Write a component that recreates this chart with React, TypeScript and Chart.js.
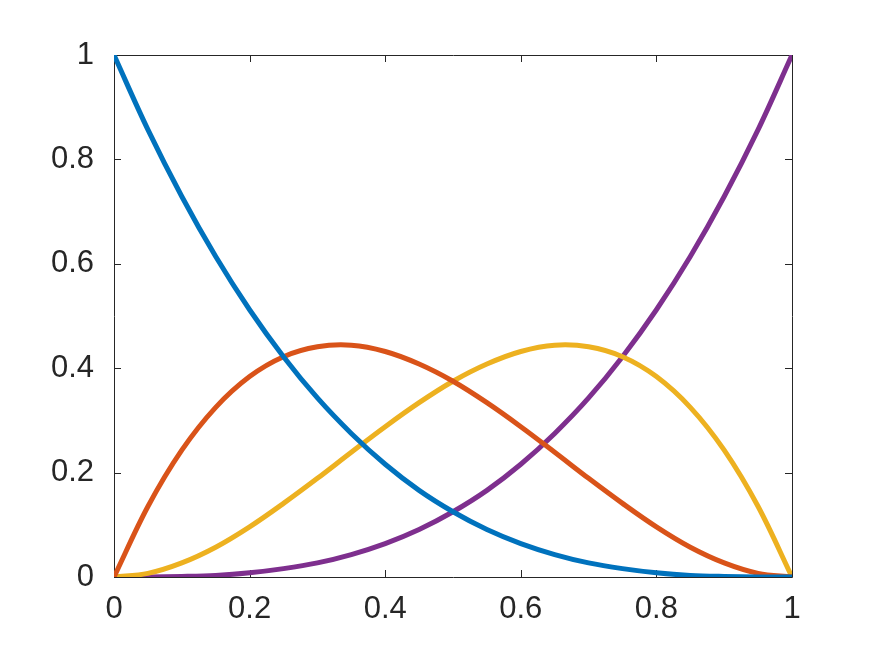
import React, { useEffect, useRef } from "react";
import { Chart, registerables } from "chart.js";

Chart.register(...registerables);

const tValues = [0, 0.05, 0.1, 0.15, 0.2, 0.25, 0.3, 0.35, 0.4, 0.45, 0.5, 0.55, 0.6, 0.65, 0.7, 0.75, 0.8, 0.85, 0.9, 0.95, 1];
const blueValues = [1, 0.857, 0.729, 0.614, 0.512, 0.422, 0.343, 0.275, 0.216, 0.166, 0.125, 0.091, 0.064, 0.043, 0.027, 0.016, 0.008, 0.003, 0.001, 0.0001, 0];
const orangeValues = [0, 0.135, 0.243, 0.325, 0.384, 0.422, 0.441, 0.444, 0.432, 0.408, 0.375, 0.334, 0.288, 0.239, 0.189, 0.141, 0.096, 0.057, 0.027, 0.007, 0];
const yellowValues = [0, 0.007, 0.027, 0.057, 0.096, 0.141, 0.189, 0.239, 0.288, 0.334, 0.375, 0.408, 0.432, 0.444, 0.441, 0.422, 0.384, 0.325, 0.243, 0.135, 0];
const purpleValues = [0, 0.0001, 0.001, 0.003, 0.008, 0.016, 0.027, 0.043, 0.064, 0.091, 0.125, 0.166, 0.216, 0.275, 0.343, 0.422, 0.512, 0.614, 0.729, 0.857, 1];

const seriesColors = ["#0072BD", "#D95319", "#EDB120", "#7E2F8E"];
const textColor = "#262626";
const fontFamily = "'Liberation Sans', Arial, Helvetica, sans-serif";

const fmt = (v: any) => String(Number(Number(v).toFixed(1)));

const boxPlugin = {
  id: "matlabBox",
  beforeDatasetsDraw(chart: any) {
    const { ctx, chartArea } = chart;
    const { left, right, top, bottom } = chartArea;
    const xs = chart.scales.x;
    const ys = chart.scales.y;
    const tl = 7;
    ctx.save();
    ctx.strokeStyle = textColor;
    ctx.lineWidth = 1;
    ctx.beginPath();
    ctx.rect(Math.round(left) + 0.5, Math.round(top) + 0.5, Math.round(right - left), Math.round(bottom - top));
    xs.ticks.forEach((t: any) => {
      const px = Math.round(xs.getPixelForValue(t.value)) + 0.5;
      ctx.moveTo(px, bottom);
      ctx.lineTo(px, bottom - tl);
      ctx.moveTo(px, top);
      ctx.lineTo(px, top + tl);
    });
    ys.ticks.forEach((t: any) => {
      const py = Math.round(ys.getPixelForValue(t.value)) + 0.5;
      ctx.moveTo(left, py);
      ctx.lineTo(left + tl, py);
      ctx.moveTo(right, py);
      ctx.lineTo(right - tl, py);
    });
    ctx.stroke();
    ctx.restore();
  },
};

export default function App() {
  const ref = useRef<HTMLCanvasElement | null>(null);
  useEffect(() => {
    if (!ref.current) return;
    const series = [blueValues, orangeValues, yellowValues, purpleValues];
    const chart = new Chart(ref.current, {
      type: "line",
      data: {
        datasets: series.map((vals, i) => ({
          label: "s" + i,
          data: tValues.map((t, j) => ({ x: t, y: vals[j] })),
          borderColor: seriesColors[i],
          backgroundColor: seriesColors[i],
          borderWidth: 5,
          pointRadius: 0,
          tension: 0.35,
          borderCapStyle: "round" as const,
          borderJoinStyle: "round" as const,
          fill: false,
        })),
      },
      options: {
        animation: false,
        responsive: false,
        maintainAspectRatio: false,
        layout: { padding: { left: 0, top: 55, right: 84, bottom: 0 } },
        plugins: { legend: { display: false }, tooltip: { enabled: false } },
        scales: {
          x: {
            type: "linear",
            min: 0,
            max: 1,
            ticks: {
              stepSize: 0.2,
              color: textColor,
              font: { family: fontFamily, size: 31 },
              padding: 14,
              maxRotation: 0,
              callback: fmt,
            },
            grid: { display: false, drawTicks: false },
            border: { display: false },
            afterFit: (s: any) => { s.height = 80; },
          },
          y: {
            type: "linear",
            min: 0,
            max: 1,
            ticks: {
              stepSize: 0.2,
              color: textColor,
              font: { family: fontFamily, size: 31 },
              padding: 20,
              callback: fmt,
            },
            grid: { display: false, drawTicks: false },
            border: { display: false },
            afterFit: (s: any) => { s.width = 114; },
          },
        },
      },
      plugins: [boxPlugin],
    });
    return () => chart.destroy();
  }, []);
  return (
    <div style={{ position: "fixed", left: 0, top: 0, width: 876, height: 657, background: "#fff" }}>
      <canvas ref={ref} width={876} height={657} style={{ display: "block" }} />
    </div>
  );
}
